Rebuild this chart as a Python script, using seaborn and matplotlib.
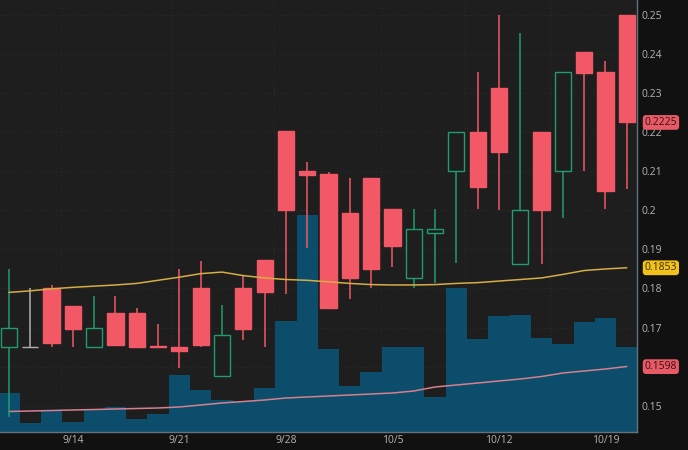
import numpy as np
import matplotlib
matplotlib.use("Agg")
import matplotlib.pyplot as plt
import matplotlib.transforms as mtransforms
import seaborn as sns

# Daily OHLC (price scale on the right)
opens = [0.165, 0.165, 0.180, 0.1755, 0.165, 0.1738, 0.1736, 0.1652, 0.165, 0.180,
         0.1577, 0.180, 0.1872, 0.2203, 0.210, 0.2094, 0.1992, 0.2082, 0.2003, 0.1826,
         0.1941, 0.210, 0.220, 0.2313, 0.1862, 0.220, 0.210, 0.2405, 0.2354, 0.250]
closes = [0.170, 0.165, 0.166, 0.1697, 0.170, 0.1656, 0.165, 0.165, 0.164, 0.1656,
          0.168, 0.1697, 0.179, 0.200, 0.209, 0.1751, 0.1826, 0.1851, 0.1908, 0.1951,
          0.1951, 0.220, 0.2059, 0.2149, 0.200, 0.200, 0.2354, 0.2351, 0.2049, 0.2225]
highs = [0.185, 0.180, 0.181, 0.1755, 0.178, 0.178, 0.1751, 0.171, 0.185, 0.187,
         0.1759, 0.1833, 0.1872, 0.2203, 0.2123, 0.2098, 0.2082, 0.2082, 0.2003, 0.2003,
         0.2003, 0.220, 0.2354, 0.250, 0.2454, 0.220, 0.2354, 0.2405, 0.2382, 0.250]
lows = [0.147, 0.165, 0.165, 0.165, 0.165, 0.1656, 0.165, 0.165, 0.1597, 0.165,
        0.1577, 0.1667, 0.165, 0.1787, 0.1903, 0.1751, 0.1774, 0.180, 0.1856, 0.180,
        0.1813, 0.1864, 0.2003, 0.200, 0.1862, 0.1862, 0.198, 0.210, 0.2003, 0.2054]

# Moving average of price
price_ma = [0.1790, 0.1794, 0.1799, 0.1803, 0.1806, 0.1809, 0.1813, 0.1821, 0.1829, 0.1838,
            0.1842, 0.1833, 0.1827, 0.1823, 0.1821, 0.1817, 0.1813, 0.1810, 0.1809, 0.1809,
            0.1810, 0.1813, 0.1815, 0.1819, 0.1823, 0.1827, 0.1836, 0.1846, 0.1850, 0.1853]

# Volume (thousands of shares) and its moving average
volume = [39, 9, 21, 10, 22, 25, 13, 18, 57, 42,
          32, 31, 44, 111, 217, 83, 46, 60, 85, 85,
          35, 144, 93, 116, 117, 94, 88, 110, 114, 85]
volume_ma = [20.5, 21, 21.5, 22, 22.5, 23, 23.5, 24, 25, 27,
             29, 30.5, 32, 34, 35, 36, 37, 38, 39, 41,
             45, 47, 49, 51, 53, 55.5, 59, 61, 63, 65.5]

date_ticks = [3, 8, 13, 18, 23, 28]
date_labels = ["9/14", "9/21", "9/28", "10/5", "10/12", "10/19"]
price_ticks = [0.15, 0.16, 0.17, 0.18, 0.19, 0.20, 0.21, 0.22, 0.23, 0.24, 0.25]
# 0.16 sits under the volume-average tag, so it shows no label
price_tick_labels = ["0.15", "", "0.17", "0.18", "0.19", "0.2", "0.21", "0.22", "0.23", "0.24", "0.25"]
grid_x = [2.45, 7.65, 12.45, 17.45, 21.4, 25.4]

BG = "#1e1e1e"
OUTER = "#111111"
UP = "#1f9d6c"
DOWN = "#f25865"
FLAT = "#b0b0b0"
VOL = "#0b4d6a"
TXT = "#b5b5b5"
SPINE = "#63737e"

sns.set_theme(style="dark", rc={"axes.facecolor": BG, "figure.facecolor": OUTER})
plt.rcParams["font.family"] = ["Open Sans", "DejaVu Sans"]

idx = np.arange(len(opens))
o = np.array(opens)
c = np.array(closes)
colors = [UP if cc > oo else (DOWN if cc < oo else FLAT) for oo, cc in zip(o, c)]
faces = [BG if cc > oo else (DOWN if cc < oo else FLAT) for oo, cc in zip(o, c)]

fig = plt.figure(figsize=(6.88, 4.5), dpi=100)
ax_vol = fig.add_axes([0, 18 / 450, 637 / 688, 432 / 450])
ax = ax_vol.twinx()

p_lo, p_hi = 0.14327, 0.25384
v_hi = 432

# volume pane
sns.barplot(x=idx, y=volume, ax=ax_vol, color=VOL, width=1.0, native_scale=True,
            saturation=1, errorbar=None, linewidth=0, zorder=1)
sns.lineplot(x=idx, y=volume_ma, ax=ax_vol, color="#d4808f", lw=1.1, zorder=2)
ax_vol.set_ylim(0, v_hi)
ax_vol.set_yticks([(p - p_lo) / (p_hi - p_lo) * v_hi for p in price_ticks])
ax_vol.set_yticklabels([])
ax_vol.set_xticks(date_ticks)
ax_vol.set_xticklabels(date_labels)
ax_vol.set_xticks(grid_x, minor=True)
ax_vol.grid(False)
ax_vol.grid(axis="y", color="#2a2a2a", ls=(0, (1, 2)), lw=0.8)
ax_vol.grid(axis="x", which="minor", color="#2a2a2a", ls=(0, (1, 2)), lw=0.8)
ax_vol.set_axisbelow(True)
ax_vol.tick_params(axis="x", which="both", length=0, pad=2, labelsize=7.5, labelcolor=TXT)
ax_vol.tick_params(axis="y", length=0)
ax_vol.set_xlabel("")
ax_vol.set_ylabel("")
for s in ["top", "left", "right"]:
    ax_vol.spines[s].set_visible(False)
ax_vol.spines["bottom"].set_color(SPINE)
ax_vol.spines["bottom"].set_linewidth(1.0)

# price pane
ax.vlines(idx, lows, highs, colors=colors, lw=1.1, zorder=3)
ax.bar(idx, np.abs(c - o), bottom=np.minimum(o, c), width=0.76, color=faces,
       edgecolor=colors, linewidth=1.0, zorder=4)
sns.lineplot(x=idx, y=price_ma, ax=ax, color="#d6ad45", lw=1.1, zorder=5)
ax.set_ylim(p_lo, p_hi)
ax.set_xlim(-0.42, 29.48)
ax.set_yticks(price_ticks)
ax.set_yticklabels(price_tick_labels)
ax.tick_params(axis="y", length=0, pad=3, labelsize=7.5, labelcolor=TXT)
ax.grid(False)
ax.set_ylabel("")
for s in ["top", "left", "bottom"]:
    ax.spines[s].set_visible(False)
ax.spines["right"].set_color(SPINE)
ax.spines["right"].set_linewidth(1.0)

# last-value tags on the right scale
tr_p = mtransforms.blended_transform_factory(ax.transAxes, ax.transData)
ax.text(1.012, closes[-1], "0.2225", transform=tr_p, ha="left", va="center", fontsize=7.5,
        color="#3b0d12", clip_on=False, zorder=10,
        bbox=dict(boxstyle="round,pad=0.18,rounding_size=0.3", fc="#e65b66", ec="none"))
ax.text(1.012, price_ma[-1], "0.1853", transform=tr_p, ha="left", va="center", fontsize=7.5,
        color="#3a2e00", clip_on=False, zorder=10,
        bbox=dict(boxstyle="round,pad=0.18,rounding_size=0.3", fc="#f1c21b", ec="none"))
ax.text(1.012, 0.16, "0.1598", transform=tr_p, ha="left", va="center", fontsize=7.5,
        color="#3b0d12", clip_on=False, zorder=10,
        bbox=dict(boxstyle="round,pad=0.18,rounding_size=0.3", fc="#e65b66", ec="none"))

fig.savefig("out.png", dpi=100, facecolor=OUTER)
